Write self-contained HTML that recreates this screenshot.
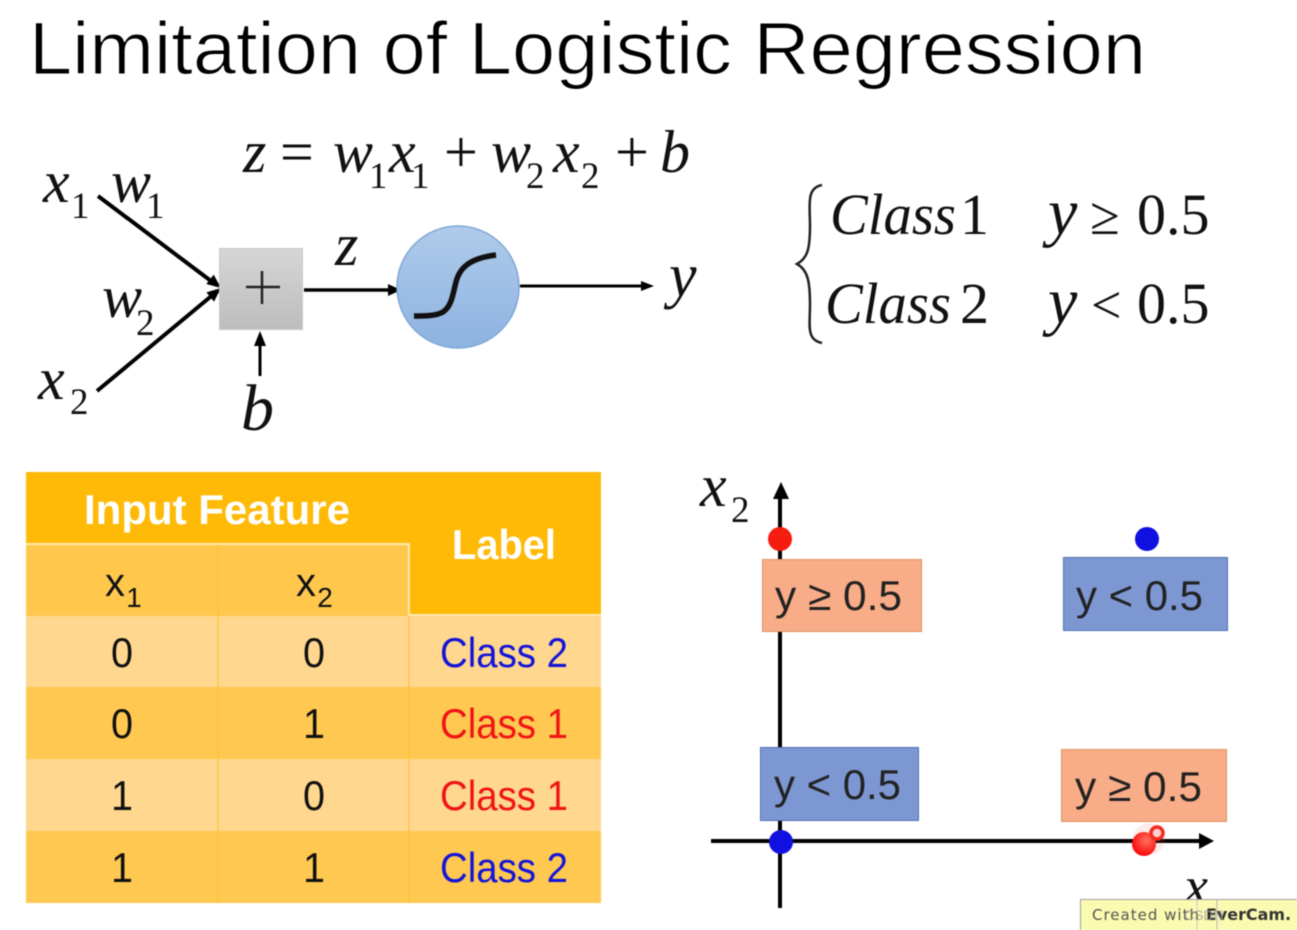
<!DOCTYPE html>
<html><head><meta charset="utf-8"><style>
html,body{margin:0;padding:0;background:#fff;overflow:hidden}
svg{display:block;filter:blur(.5px)}
.s{font-family:"Liberation Sans",sans-serif}
.m{font-family:"Liberation Serif",serif;font-style:italic;fill:#111}
.r{font-family:"Liberation Serif",serif;fill:#111}
</style></head><body>
<svg width="1297" height="930" viewBox="0 0 1297 930" xmlns="http://www.w3.org/2000/svg">
<defs>
<linearGradient id="g" x1="0" y1="0" x2="0" y2="1"><stop offset="0" stop-color="#d6d6d6"/><stop offset="1" stop-color="#bdbdbd"/></linearGradient>
<linearGradient id="b" x1="0" y1="0" x2="0" y2="1"><stop offset="0" stop-color="#b0cbea"/><stop offset="1" stop-color="#8db3e2"/></linearGradient>
<radialGradient id="rd" cx=".6" cy=".35" r=".6"><stop offset="0" stop-color="#ff7060"/><stop offset="1" stop-color="#fa1010"/></radialGradient>
</defs>
<rect width="1297" height="930" fill="#fff"/>
<text class="s" x="29" y="74" font-size="74" fill="#000" stroke="#fff" stroke-width="1.100" textLength="1117" lengthAdjust="spacingAndGlyphs">Limitation of Logistic Regression</text>

<!-- formula -->
<text class="m" x="243" y="172" font-size="60">z</text>
<text class="r" x="280" y="172" font-size="60">=</text>
<text class="m" x="333" y="172" font-size="60">w</text>
<text class="r" x="369" y="188" font-size="37">1</text>
<text class="m" x="389" y="172" font-size="60">x</text>
<text class="r" x="411" y="188" font-size="37">1</text>
<text class="r" x="444" y="172" font-size="60">+</text>
<text class="m" x="491" y="172" font-size="60">w</text>
<text class="r" x="526" y="188" font-size="37">2</text>
<text class="m" x="553" y="172" font-size="60">x</text>
<text class="r" x="581" y="188" font-size="37">2</text>
<text class="r" x="615" y="172" font-size="60">+</text>
<text class="m" x="660" y="172" font-size="60">b</text>

<!-- neuron -->
<text class="m" x="43" y="202" font-size="60">x</text>
<text class="r" x="71" y="218" font-size="37">1</text>
<text class="m" x="111" y="202" font-size="60">w</text>
<text class="r" x="146" y="218" font-size="37">1</text>
<text class="m" x="102" y="317" font-size="60">w</text>
<text class="r" x="136" y="335" font-size="37">2</text>
<text class="m" x="38" y="399" font-size="60">x</text>
<text class="r" x="70" y="414" font-size="37">2</text>
<text class="m" x="335" y="265" font-size="60">z</text>
<text class="m" x="669" y="296" font-size="62">y</text>
<text class="m" x="241" y="430" font-size="66">b</text>

<line x1="98" y1="196" x2="215" y2="284" stroke="#000" stroke-width="4"/>
<line x1="97" y1="391" x2="215" y2="293" stroke="#000" stroke-width="4"/>
<path d="M221 288L206.300 284L213.700 274.600Z M221 288L214 301.600L206.400 292.400Z" fill="#000"/>
<rect x="219.500" y="248.500" width="83" height="81" fill="url(#g)" stroke="#c9c9c9"/>
<path d="M262 271V304M246 287H280" stroke="#222" stroke-width="2.500" fill="none"/>
<line x1="304" y1="290" x2="390" y2="290" stroke="#000" stroke-width="3.500"/>
<path d="M401 290L388 284V296Z" fill="#000"/>
<line x1="260" y1="376" x2="260" y2="342" stroke="#000" stroke-width="3"/>
<path d="M260 331L254 346H266Z" fill="#000"/>
<ellipse cx="458" cy="287" rx="61" ry="61" fill="url(#b)" stroke="#7fa8d6" stroke-width="1.500"/>
<path d="M414 316C425 316 436 316 443 312C452 306 453 293 456 282C460 266 472 258 496 255" fill="none" stroke="#111" stroke-width="5.500"/>
<line x1="520" y1="286" x2="644" y2="286" stroke="#000" stroke-width="3"/>
<path d="M654 286L641 281V291Z" fill="#000"/>

<!-- classes -->
<path d="M822 185C806 188 810 205 810 225C810 248 808 258 797 264C808 270 810 282 810 305C810 325 806 340 822 343" fill="none" stroke="#222" stroke-width="2.500"/>
<text class="m" x="830" y="234" font-size="58" textLength="126" lengthAdjust="spacingAndGlyphs">Class</text>
<text class="r" x="960" y="234" font-size="58">1</text>
<text class="m" x="1048" y="234" font-size="66">y</text>
<text class="r" x="1090" y="234" font-size="54">≥</text>
<text class="r" x="1137" y="234" font-size="58">0.5</text>
<text class="m" x="825" y="323" font-size="58" textLength="126" lengthAdjust="spacingAndGlyphs">Class</text>
<text class="r" x="960" y="323" font-size="58">2</text>
<text class="m" x="1048" y="323" font-size="66">y</text>
<text class="r" x="1091" y="323" font-size="54">&lt;</text>
<text class="r" x="1137" y="323" font-size="58">0.5</text>

<!-- table -->
<rect x="26" y="472" width="575" height="431" fill="#ffba08"/>
<rect x="26" y="544" width="383" height="72" fill="#ffc84d"/>
<rect x="26" y="616" width="575" height="71" fill="#ffd78e"/>
<rect x="26" y="687" width="575" height="72" fill="#ffc850"/>
<rect x="26" y="759" width="575" height="72" fill="#ffd78e"/>
<rect x="26" y="831" width="575" height="72" fill="#ffc850"/>
<path d="M26 544H409V615H601" fill="none" stroke="#ffe9b0" stroke-width="2"/>
<path d="M218 545V903M409 616V903" stroke="#ffbf2e" stroke-width="1" fill="none"/>
<g class="s" font-size="42" text-anchor="middle" fill="#111">
<text x="217" y="524" fill="#fff" font-weight="bold" textLength="266" lengthAdjust="spacingAndGlyphs">Input Feature</text>
<text x="504" y="559" fill="#fff" font-weight="bold" textLength="104" lengthAdjust="spacingAndGlyphs">Label</text>
<text x="115" y="596" font-size="40">x</text><text x="134" y="607" font-size="28">1</text>
<text x="306" y="596" font-size="40">x</text><text x="325" y="607" font-size="28">2</text>
<text x="122" y="667" textLength="22" lengthAdjust="spacingAndGlyphs">0</text><text x="314" y="667" textLength="22" lengthAdjust="spacingAndGlyphs">0</text>
<text x="122" y="738" textLength="22" lengthAdjust="spacingAndGlyphs">0</text><text x="314" y="738" textLength="22" lengthAdjust="spacingAndGlyphs">1</text>
<text x="122" y="810" textLength="22" lengthAdjust="spacingAndGlyphs">1</text><text x="314" y="810" textLength="22" lengthAdjust="spacingAndGlyphs">0</text>
<text x="122" y="882" textLength="22" lengthAdjust="spacingAndGlyphs">1</text><text x="314" y="882" textLength="22" lengthAdjust="spacingAndGlyphs">1</text>
<text x="504" y="667" fill="#1414d8" textLength="128" lengthAdjust="spacingAndGlyphs">Class 2</text>
<text x="504" y="738" fill="#f01414" textLength="128" lengthAdjust="spacingAndGlyphs">Class 1</text>
<text x="504" y="810" fill="#f01414" textLength="128" lengthAdjust="spacingAndGlyphs">Class 1</text>
<text x="504" y="882" fill="#1414d8" textLength="128" lengthAdjust="spacingAndGlyphs">Class 2</text>
</g>

<!-- plot -->
<line x1="780" y1="908" x2="780" y2="496" stroke="#000" stroke-width="4"/>
<path d="M781 482L773 499H789Z" fill="#000"/>
<line x1="711" y1="841" x2="1200" y2="841" stroke="#000" stroke-width="4"/>
<path d="M1214 841L1199 833V849Z" fill="#000"/>
<text class="m" x="700" y="506" font-size="60">x</text>
<text class="r" x="731" y="522" font-size="37">2</text>
<circle cx="780" cy="539" r="12" fill="#f51c10"/>
<circle cx="1147" cy="539" r="12" fill="#1010e0"/>
<circle cx="781" cy="842" r="12" fill="#1010e0"/>
<rect x="762.500" y="559.500" width="159" height="72" fill="#f8ac87" stroke="#e09060"/>
<rect x="1063.500" y="557.500" width="164" height="73" fill="#7d97d2" stroke="#4f70b5"/>
<rect x="760.500" y="747.500" width="158" height="73" fill="#7d97d2" stroke="#4f70b5"/>
<rect x="1061.500" y="749.500" width="165" height="72" fill="#f8ac87" stroke="#e09060"/>
<g class="s" font-size="42" fill="#222">
<text x="775" y="610" textLength="127" lengthAdjust="spacingAndGlyphs">y ≥ 0.5</text>
<text x="1076" y="610" textLength="127" lengthAdjust="spacingAndGlyphs">y &lt; 0.5</text>
<text x="774" y="799" textLength="127" lengthAdjust="spacingAndGlyphs">y &lt; 0.5</text>
<text x="1075" y="801" textLength="127" lengthAdjust="spacingAndGlyphs">y ≥ 0.5</text>
</g>
<circle cx="1149" cy="839" r="16" fill="#ff5050" opacity=".12"/>
<circle cx="1144" cy="844" r="12" fill="url(#rd)"/>
<circle cx="1157" cy="833" r="6" fill="#ffd0d0" stroke="#f52a20" stroke-width="3.500"/>

<!-- watermark -->
<text class="m" x="1184" y="904" font-size="54">x</text>
<rect x="1080.500" y="899.500" width="230" height="40" fill="#fafab0" stroke="#a0a0a0"/>
<line x1="1197" y1="900" x2="1197" y2="930" stroke="#ccc" stroke-width="1"/>
<line x1="1217" y1="900" x2="1217" y2="930" stroke="#bbb" stroke-width="1"/>
<text x="1092" y="920" font-family="'DejaVu Sans',sans-serif" font-size="15" fill="#555" letter-spacing="1">Created with</text>
<text x="1206" y="920" font-family="'DejaVu Sans',sans-serif" font-size="16" font-weight="bold" fill="#333" textLength="85" lengthAdjust="spacingAndGlyphs">EverCam.</text>
<text x="1184" y="920" font-family="'Liberation Sans',sans-serif" font-size="14" fill="#999" opacity=".8">CSDN</text>
</svg>
</body></html>
